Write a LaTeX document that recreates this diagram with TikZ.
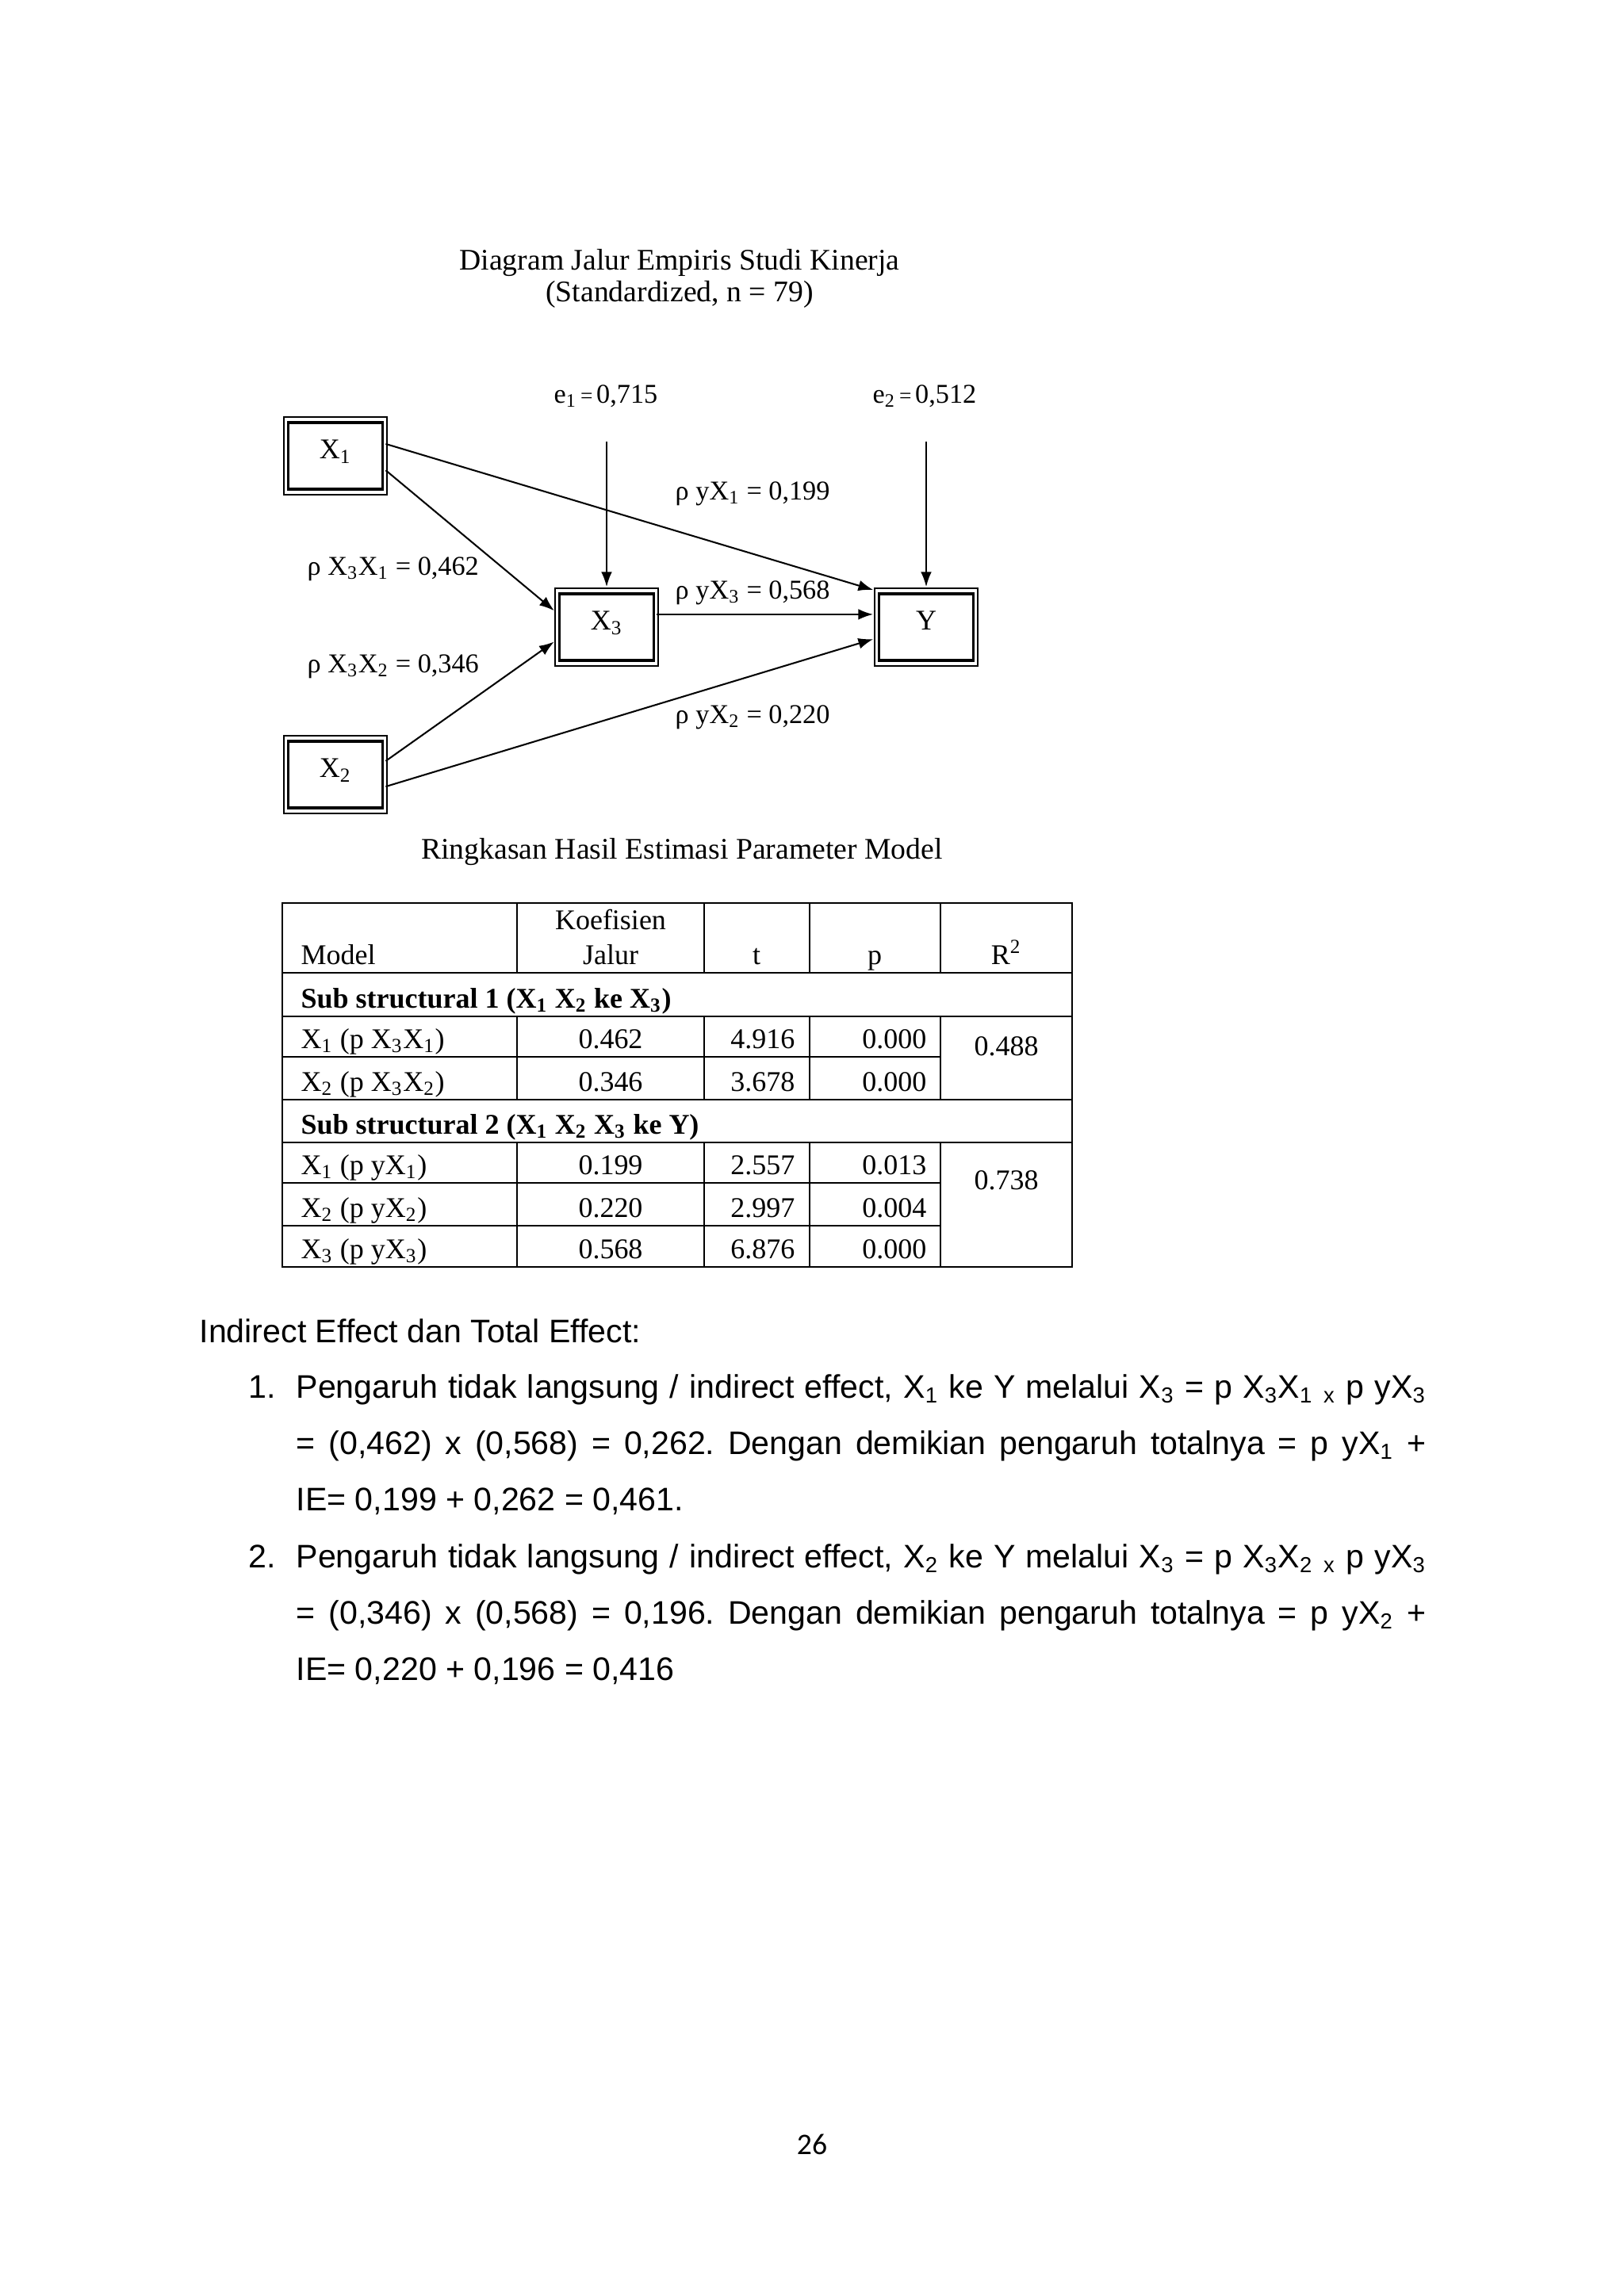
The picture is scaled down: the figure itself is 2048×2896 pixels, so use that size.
\documentclass[tikz,border=0pt]{standalone}
\usepackage{fontspec}
\setmainfont{Liberation Serif}
\newfontfamily\arialfont{Liberation Sans}
\newfontfamily\calibrifont{Carlito}
\usetikzlibrary{arrows.meta}
\frenchspacing

\begin{document}
\begin{tikzpicture}[x=0.0102539cm,y=-0.0102539cm,
  varbox/.style={draw,line width=0.6pt,double,double distance=1.1pt,
    minimum width=1.28cm,minimum height=0.95cm,inner sep=0pt,
    text height=7pt,text depth=5pt,
    font=\fontsize{10.5}{12}\selectfont},
  pathto/.style={line width=0.6pt,-{Latex[length=5.5pt,width=4pt]},shorten >=1pt},
  coef/.style={anchor=base west,inner sep=0pt,font=\fontsize{10}{12}\selectfont},
  caption/.style={anchor=base,inner sep=0pt,font=\fontsize{11}{13}\selectfont},
  cell/.style={inner sep=0pt,font=\fontsize{10.5}{12}\selectfont},
  tabline/.style={line width=0.6pt},
  body/.style={anchor=base west,inner sep=0pt,font=\arialfont\fontsize{12}{14}\selectfont}]

  % Page
  \fill[white] (0,0) rectangle (2048,2896);
  \useasboundingbox (0,0) rectangle (2048,2896);

  % Diagram title
  \node[caption] (title1) at (857,340) {Diagram Jalur Empiris Studi Kinerja};
  \node[caption] (title2) at (857,380) {(Standardized, n = 79)};

  % Residuals
  \node[coef] (e1) at (698,508) {e\textsubscript{1}{\footnotesize\,=\,}0,715};
  \node[coef] (e2) at (1100,508) {e\textsubscript{2}{\footnotesize\,=\,}0,512};
  \coordinate (e1top) at (765,557);
  \coordinate (e2top) at (1168,557);

  % The four variables
  \node[varbox] (x1) at (423,575) {X\textsubscript{1}};
  \node[varbox] (x2) at (423,977) {X\textsubscript{2}};
  \node[varbox] (x3) at (765,791) {X\textsubscript{3}};
  \node[varbox] (y) at (1168,791) {Y};
  \foreach \n in {x1,x2,x3,y} {
    \draw[line width=1.3pt] ([shift={(0.85pt,-1.5pt)}]\n.north west) -- ([shift={(-0.85pt,-1.5pt)}]\n.north east);
    \draw[line width=1.3pt] ([shift={(0.85pt,1.5pt)}]\n.south west) -- ([shift={(-0.85pt,1.5pt)}]\n.south east);
  }

  % Paths
  \draw[pathto] (e1top) -- (x3.north);
  \draw[pathto] (e2top) -- (y.north);
  \draw[pathto] ([yshift=4.4pt]x1.east) -- ([yshift=13.4pt]y.west);
  \draw[pathto] ([yshift=-5.3pt]x1.east) -- ([yshift=5.4pt]x3.west);
  \draw[pathto] ([yshift=4.7pt]x3.east) -- ([yshift=4.7pt]y.west);
  \draw[pathto] ([yshift=5pt]x2.east) -- ([yshift=-4.8pt]x3.west);
  \draw[pathto] ([yshift=-4.4pt]x2.east) -- ([yshift=-4.1pt]y.west);

  % Path coefficients
  \node[coef] (pyx1) at (851,630) {ρ yX\textsubscript{1} = 0,199};
  \node[coef] (px3x1) at (387,725) {ρ X\textsubscript{3}X\textsubscript{1} = 0,462};
  \node[coef] (pyx3) at (851,755) {ρ yX\textsubscript{3} = 0,568};
  \node[coef] (px3x2) at (387,848) {ρ X\textsubscript{3}X\textsubscript{2} = 0,346};
  \node[coef] (pyx2) at (851,912) {ρ yX\textsubscript{2} = 0,220};

  % Summary table
  \node[caption] (ringkasan) at (860,1083) {Ringkasan Hasil Estimasi Parameter Model};
  \draw[line width=0.8pt] (356,1139) rectangle (1352,1598);
  \draw[tabline] (356,1227) -- (1352,1227);
  \draw[tabline] (356,1282) -- (1352,1282);
  \draw[tabline] (356,1333) -- (1186,1333);
  \draw[tabline] (356,1387) -- (1352,1387);
  \draw[tabline] (356,1441) -- (1352,1441);
  \draw[tabline] (356,1492) -- (1186,1492);
  \draw[tabline] (356,1546) -- (1186,1546);
  \foreach \cx in {652,888,1021,1186} {
    \draw[tabline] (\cx,1139) -- (\cx,1227);
    \draw[tabline] (\cx,1282) -- (\cx,1387);
    \draw[tabline] (\cx,1441) -- (\cx,1598);
  }

  % Header row
  \node[cell,anchor=base west] (hmodel) at (379,1216) {Model};
  \node[cell,anchor=base] (hkoef) at (770,1172) {Koefisien};
  \node[cell,anchor=base] (hjalur) at (770,1216) {Jalur};
  \node[cell,anchor=base] (ht) at (954,1216) {t};
  \node[cell,anchor=base] (hp) at (1103,1216) {p};
  \node[cell,anchor=base] (hr) at (1269,1216) {R\textsuperscript{2}};

  % Sub structural 1
  \node[cell,anchor=base west,font=\fontsize{10.5}{12}\selectfont\bfseries] (sub1) at (379,1271)
    {Sub structural 1 (X\textsubscript{1} X\textsubscript{2} ke X\textsubscript{3})};
  \node[cell,anchor=base west] (m1) at (379,1322) {X\textsubscript{1} (p X\textsubscript{3}X\textsubscript{1})};
  \node[cell,anchor=base] (k1) at (770,1322) {0.462};
  \node[cell,anchor=base east] (t1) at (1003,1322) {4.916};
  \node[cell,anchor=base east] (p1) at (1169,1322) {0.000};
  \node[cell,anchor=base west] (m2) at (379,1376) {X\textsubscript{2} (p X\textsubscript{3}X\textsubscript{2})};
  \node[cell,anchor=base] (k2) at (770,1376) {0.346};
  \node[cell,anchor=base east] (t2) at (1003,1376) {3.678};
  \node[cell,anchor=base east] (p2) at (1169,1376) {0.000};
  \node[cell,anchor=base] (r1) at (1269,1331) {0.488};

  % Sub structural 2
  \node[cell,anchor=base west,font=\fontsize{10.5}{12}\selectfont\bfseries] (sub2) at (379,1430)
    {Sub structural 2 (X\textsubscript{1} X\textsubscript{2} X\textsubscript{3} ke Y)};
  \node[cell,anchor=base west] (m3) at (379,1481) {X\textsubscript{1} (p yX\textsubscript{1})};
  \node[cell,anchor=base] (k3) at (770,1481) {0.199};
  \node[cell,anchor=base east] (t3) at (1003,1481) {2.557};
  \node[cell,anchor=base east] (p3) at (1169,1481) {0.013};
  \node[cell,anchor=base west] (m4) at (379,1535) {X\textsubscript{2} (p yX\textsubscript{2})};
  \node[cell,anchor=base] (k4) at (770,1535) {0.220};
  \node[cell,anchor=base east] (t4) at (1003,1535) {2.997};
  \node[cell,anchor=base east] (p4) at (1169,1535) {0.004};
  \node[cell,anchor=base west] (m5) at (379,1587) {X\textsubscript{3} (p yX\textsubscript{3})};
  \node[cell,anchor=base] (k5) at (770,1587) {0.568};
  \node[cell,anchor=base east] (t5) at (1003,1587) {6.876};
  \node[cell,anchor=base east] (p5) at (1169,1587) {0.000};
  \node[cell,anchor=base] (r2) at (1269,1500) {0.738};

  % Indirect and total effects
  \node[body] (ietitle) at (251,1693) {Indirect Effect dan Total Effect:};
  \node[body] (num1) at (313,1763) {1.};
  \node[body] (item1a) at (373,1763) {\makebox[14.61cm][s]{Pengaruh tidak langsung / indirect effect, X\textsubscript{1} ke Y melalui X\textsubscript{3} = p X\textsubscript{3}X\textsubscript{1} \textsubscript{x} p yX\textsubscript{3}}};
  \node[body] (item1b) at (373,1834) {\makebox[14.61cm][s]{= (0,462) x (0,568) = 0,262. Dengan demikian pengaruh totalnya = p yX\textsubscript{1} +}};
  \node[body] (item1c) at (373,1905) {IE= 0,199 + 0,262 = 0,461.};
  \node[body] (num2) at (313,1977) {2.};
  \node[body] (item2a) at (373,1977) {\makebox[14.61cm][s]{Pengaruh tidak langsung / indirect effect, X\textsubscript{2} ke Y melalui X\textsubscript{3} = p X\textsubscript{3}X\textsubscript{2} \textsubscript{x} p yX\textsubscript{3}}};
  \node[body] (item2b) at (373,2048) {\makebox[14.61cm][s]{= (0,346) x (0,568) = 0,196. Dengan demikian pengaruh totalnya = p yX\textsubscript{2} +}};
  \node[body] (item2c) at (373,2119) {IE= 0,220 + 0,196 = 0,416};

  % Page number
  \node[anchor=base,inner sep=0pt,font=\calibrifont\fontsize{11}{13}\selectfont] (pagenum) at (1024,2717) {26};
\end{tikzpicture}
\end{document}
